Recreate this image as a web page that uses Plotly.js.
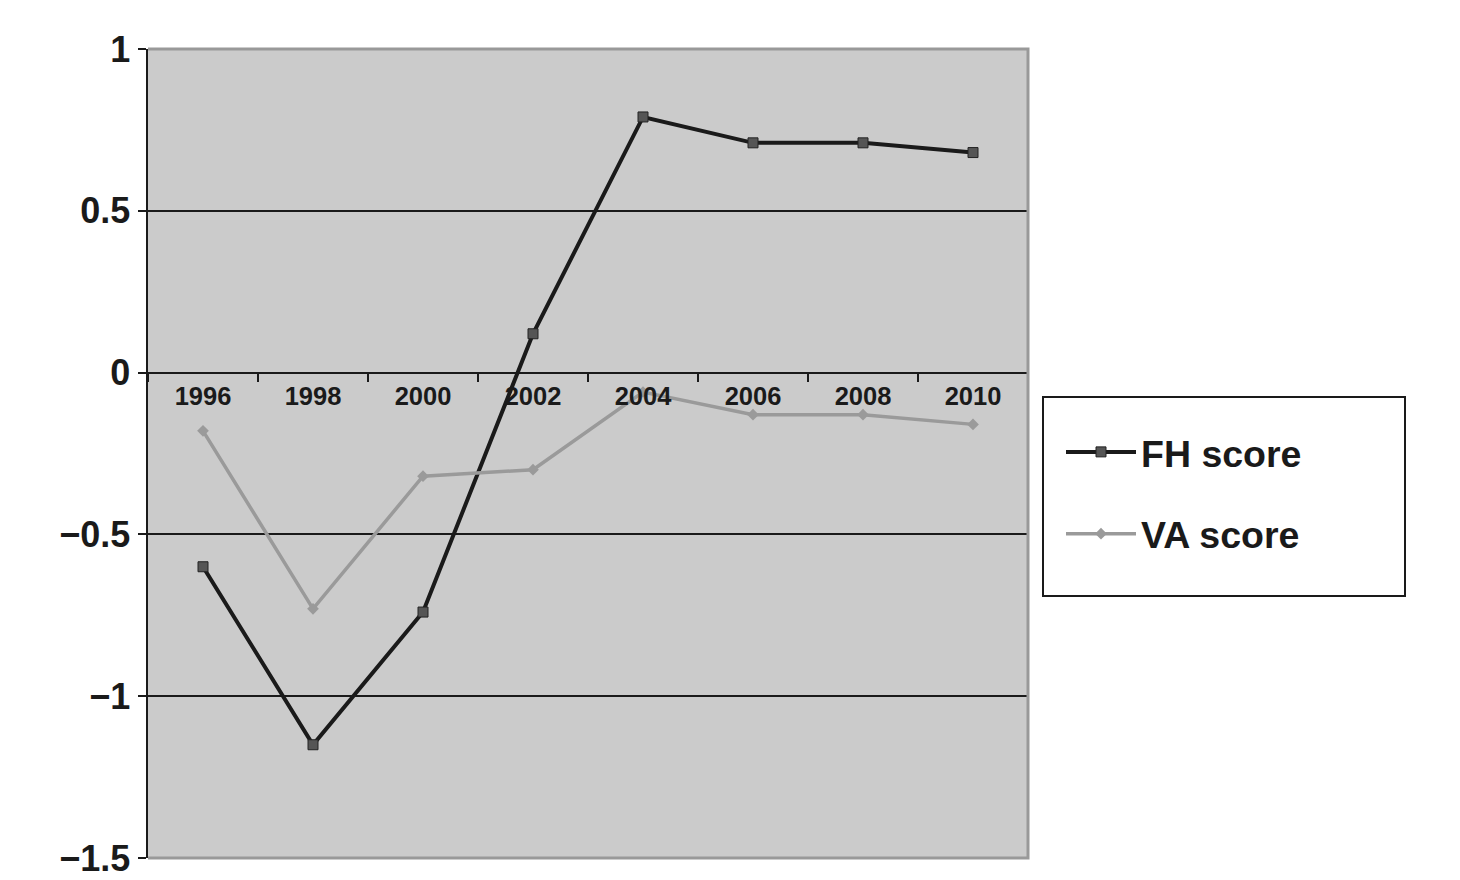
<!DOCTYPE html>
<html>
<head>
<meta charset="utf-8">
<script src="https://cdn.plot.ly/plotly-3.0.1.min.js"></script>
<style>html,body{margin:0;padding:0;background:#fff;}#chart{width:1460px;height:880px;}</style>
</head>
<body>
<div id="chart"></div>
<script>
const years = ["1996", "1998", "2000", "2002", "2004", "2006", "2008", "2010"];
const fhScore = [-0.60, -1.15, -0.74, 0.12, 0.79, 0.71, 0.71, 0.68];
const vaScore = [-0.18, -0.73, -0.32, -0.30, -0.06, -0.13, -0.13, -0.16];
const yTicks = [-1.5, -1, -0.5, 0, 0.5, 1];
const gridVals = [-1, -0.5, 0.5];

const FONT = "Liberation Sans, Arial, Helvetica, sans-serif";
const TXT = "#1a1a1a";

const traces = [
  {
    x: years, y: fhScore, name: "FH score", type: "scatter", mode: "lines+markers",
    line: {color: "#1a1a1a", width: 4},
    marker: {symbol: "square", size: 10, color: "#555555", line: {color: "#222222", width: 1}},
    legendgroup: "a"
  },
  {
    x: years, y: vaScore, name: "VA score", type: "scatter", mode: "lines+markers",
    line: {color: "#9a9a9a", width: 3.5},
    marker: {symbol: "diamond", size: 9, color: "#9a9a9a"},
    legendgroup: "b"
  },
  {
    x: years, y: vaScore, yaxis: "y2", type: "scatter", mode: "none", showlegend: false, hoverinfo: "skip"
  }
];

const L = 148, R = 1028, T = 49, B = 858;
const pw = R - L, ph = B - T;
const px = v => (v - L) / pw;
const py = v => (B - v) / ph;

const layout = {
  width: 1460, height: 880,
  margin: {l: L, r: 1460 - R, t: T, b: 880 - B, pad: 0},
  paper_bgcolor: "#ffffff",
  plot_bgcolor: "#cbcbcb",
  font: {family: FONT, color: TXT, size: 24, weight: "bold"},
  showlegend: true,
  xaxis: {
    type: "category", categoryarray: years, range: [-0.5, 7.5],
    anchor: "free", position: 0.6,
    showline: true, linecolor: "#1a1a1a", linewidth: 2.5,
    ticks: "outside", tickson: "boundaries", ticklen: 8, tickwidth: 2, tickcolor: "#1a1a1a",
    showgrid: false, zeroline: false,
    tickfont: {family: FONT, size: 25.5, color: TXT, weight: "bold"},
    fixedrange: true
  },
  yaxis: {
    range: [-1.5, 1], tickvals: yTicks,
    showgrid: false, zeroline: false,
    showline: true, linecolor: "#1a1a1a", linewidth: 2.5,
    ticks: "outside", ticklen: 8, tickwidth: 2, tickcolor: "#1a1a1a",
    tickfont: {family: FONT, size: 36, color: TXT, weight: "bold"},
    fixedrange: true
  },
  yaxis2: {
    overlaying: "y", range: [-1.5, 1], tickvals: gridVals,
    showgrid: true, gridcolor: "#1a1a1a", gridwidth: 2,
    showticklabels: false, ticks: "", zeroline: false, showline: false,
    fixedrange: true
  },
  legend: {
    x: px(1061), y: py(421), xanchor: "left", yanchor: "top",
    bgcolor: "rgba(0,0,0,0)", borderwidth: 0,
    font: {family: FONT, size: 37.5, color: TXT, weight: "bold"},
    traceorder: "grouped", tracegroupgap: 30, itemwidth: 70
  },
  shapes: [
    {type: "path", xref: "paper", yref: "paper", path: "M0,1 L1,1 L1,0 L0,0",
     line: {color: "#999999", width: 3}, layer: "above"},
    {type: "rect", xref: "paper", yref: "paper",
     x0: px(1043), x1: px(1405), y0: py(596), y1: py(397),
     line: {color: "#1a1a1a", width: 2}, fillcolor: "rgba(0,0,0,0)"}
  ]
};

Plotly.newPlot("chart", traces, layout, {displayModeBar: false, staticPlot: true});
</script>
</body>
</html>
